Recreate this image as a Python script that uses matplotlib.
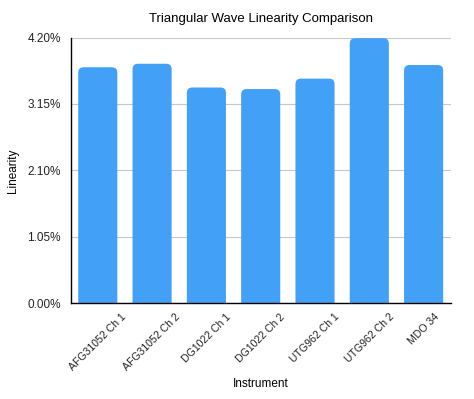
import matplotlib
matplotlib.use("Agg")
import matplotlib.pyplot as plt
from matplotlib.patches import FancyBboxPatch
from matplotlib.ticker import FuncFormatter

plt.rcParams["font.family"] = ["Liberation Sans", "DejaVu Sans"]

instruments = ["AFG31052 Ch 1", "AFG31052 Ch 2", "DG1022 Ch 1", "DG1022 Ch 2",
               "UTG962 Ch 1", "UTG962 Ch 2", "MDO 34"]
linearity = [3.73, 3.785, 3.41, 3.385, 3.55, 4.19, 3.765]
yticks = [0.0, 1.05, 2.10, 3.15, 4.20]

fig = plt.figure(figsize=(4.74, 3.99), dpi=100)
ax = fig.add_axes([0.149, 0.240, 0.802, 0.666])

color = "#42A1F6"
bars = ax.bar(range(len(instruments)), linearity, width=0.72, color=color, zorder=2)
x_px = 0.802 * 474 / 7.0
y_px = 0.666 * 399 / 4.2
for b in bars:
    b.set_visible(False)
    p = FancyBboxPatch((b.get_x(), -0.3), b.get_width(), b.get_height() + 0.3,
                       boxstyle="round,pad=0,rounding_size=0.1",
                       mutation_aspect=x_px / y_px,
                       facecolor=color, edgecolor="none", zorder=2, clip_on=True)
    ax.add_patch(p)

ax.set_xlim(-0.5, len(instruments) - 0.5)
ax.set_ylim(0, 4.2)
ax.set_yticks(yticks)
ax.yaxis.set_major_formatter(FuncFormatter(lambda v, p: f"{v:.2f}%"))
ax.set_xticks(range(len(instruments)))
ax.set_xticklabels(instruments, rotation=45, ha="center", va="top", fontsize=7.6)
ax.tick_params(axis="y", labelsize=8.5, length=0, pad=7, labelcolor="#222222")
ax.tick_params(axis="x", length=0, pad=6, labelcolor="#222222")
ax.grid(axis="y", color="#c8c8c8", linewidth=0.8, zorder=0)
for s in ["top", "right"]:
    ax.spines[s].set_visible(False)
ax.spines["left"].set_color("black")
ax.spines["bottom"].set_color("black")
ax.spines["left"].set_linewidth(1.0)
ax.spines["bottom"].set_linewidth(1.0)
ax.spines["left"].set_zorder(3)
ax.spines["bottom"].set_zorder(3)

ax.set_title("Triangular Wave Linearity Comparison", fontsize=9.5, pad=11)
ax.set_ylabel("Linearity", fontsize=8.5)
ax.yaxis.set_label_coords(-0.135, 0.5)
ax.set_xlabel("Instrument", fontsize=8.5)
ax.xaxis.set_label_coords(0.5, -0.28)

fig.savefig("out.png", dpi=100)
